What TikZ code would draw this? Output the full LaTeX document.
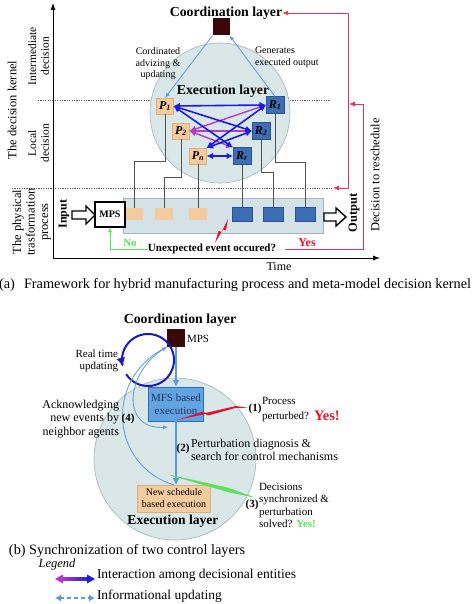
\documentclass[tikz,border=0pt]{standalone}
\usepackage{fontspec}
\setmainfont{Liberation Serif}
\usetikzlibrary{arrows.meta,calc}
\definecolor{peach}{HTML}{F3CB9F}
\definecolor{peachd}{HTML}{DDAE78}
\definecolor{rbox}{HTML}{3D6DB3}
\definecolor{rboxd}{HTML}{2A5190}
\definecolor{cfill}{HTML}{D9E7E9}
\definecolor{cdraw}{HTML}{9FB2B6}
\definecolor{barfill}{HTML}{D4E1E6}
\definecolor{bardraw}{HTML}{A0B4BC}
\definecolor{maroon}{HTML}{3A0808}
\definecolor{iblue}{HTML}{1C1CE0}
\definecolor{imag}{HTML}{B43CC4}
\definecolor{lblue}{HTML}{5B9BD5}
\definecolor{rline}{HTML}{D8385C}
\definecolor{yred}{HTML}{E0142C}
\definecolor{gline}{HTML}{5EE05E}
\definecolor{mfsfill}{HTML}{62A4E2}
\definecolor{mfsdraw}{HTML}{2E6DB0}
\definecolor{loopb}{HTML}{1A1AB4}
\definecolor{navy}{HTML}{1E3560}
\definecolor{grayc}{HTML}{505050}
\newcommand{\myfs}[2]{\fontsize{#1}{#2}\selectfont}
\newcommand{\plab}[2]{\textbf{\textit{#1}}\textsubscript{\textbf{\textit{#2}}}}
\tikzset{
  every node/.style={inner sep=0pt, outer sep=0pt},
  ttl/.style={font=\myfs{13.8}{16}\bfseries},
  sm/.style={font=\myfs{10}{11.5}},
  side/.style={rotate=90, font=\myfs{12.5}{13.5}, align=center},
  sideb/.style={rotate=90, font=\myfs{11.5}{12.8}, align=center},
  pbox/.style={draw=peachd, fill=peach, line width=0.4pt, minimum width=17pt, minimum height=16pt, font=\myfs{12}{12}},
  rboxn/.style={draw=rboxd, fill=rbox, line width=0.4pt, minimum width=18pt, minimum height=17pt, font=\myfs{12}{12}},
  ppb/.style={fill=peach, minimum width=18pt, minimum height=12pt},
  bpb/.style={draw=rboxd, fill=rbox, line width=0.4pt, minimum width=20pt, minimum height=14pt},
  sqr/.style={fill=maroon, minimum size=17pt},
  execc/.style={circle, draw=cdraw, fill=cfill, line width=0.6pt},
  conn/.style={draw=grayc, line width=0.7pt},
  dotl/.style={draw=gray!70!black, line width=0.6pt, dash pattern=on 1.2pt off 1.2pt},
  redl/.style={draw=rline, line width=0.9pt},
  grnl/.style={draw=gline, line width=0.9pt},
  info/.style={draw=lblue, line width=0.8pt, -{Latex[length=5pt,width=4pt]}},
  thinfo/.style={draw=lblue, line width=1.8pt, -{Latex[length=7pt,width=7pt]}},
  binter/.style={draw=iblue, line width=1.6pt, {Latex[length=6.5pt,width=6.5pt]}-{Latex[length=6.5pt,width=6.5pt]}},
  minter/.style={draw=imag, line width=1.4pt, {Latex[length=6.5pt,width=6.5pt]}-{Latex[length=6.5pt,width=6.5pt]}},
  axisl/.style={draw=black, line width=0.8pt, -{Latex[length=7pt,width=5pt]}},
  captxt/.style={anchor=west, font=\myfs{14.3}{16}},
}
\begin{document}
\begin{tikzpicture}[x=1pt,y=-1pt]
\useasboundingbox (0,0) rectangle (474,604);
% ================= (a) =================
\coordinate (org) at (53,258);
\coordinate (ytop) at (53,3);
\coordinate (xend) at (380,258);
\coordinate (d1a) at (38,100);
\coordinate (d1b) at (330,100);
\coordinate (d2a) at (12,188);
\coordinate (rt) at (348,13);
\coordinate (rb) at (348,188);
\coordinate (rbend) at (333,188);
\coordinate (ry3) at (363,104);
\coordinate (ry4) at (349,104);
\draw[dotl] (d1a) -- (d1b);
\draw[dotl] (d2a) -- (rbend);
\draw[axisl] (org) -- (ytop);
\draw[axisl] (org) -- (xend);
% side labels
\node[side] (kern) at (12,110) {The decision kernel};
\node[sideb] (inter) at (38.5,56) {Intermediate\\decision};
\node[sideb] (local) at (38.5,143) {Local\\decision};
\node[side] (phys) at (31.5,222) {The physical\\trasformation\\process};
\node[side] (resch) at (375,175) {Decision to reschedule};
\node[font=\myfs{12}{12}] (time) at (279,267) {Time};
% execution circle
\node[execc, minimum size=140pt] (exec) at (220,113) {};
\node[ttl] (execl) at (223,91) {Execution layer};
\node[ttl] (coord) at (226,13) {Coordination layer};
\node[sqr] (csq) at (221,27) {};
% decision nodes
\node[pbox] (P1) at (165,106) {\plab{P}{1}};
\node[pbox] (P2) at (181,131) {\plab{P}{2}};
\node[pbox] (Pn) at (198,156) {\plab{P}{n}};
\node[rboxn] (R1) at (275,105) {\plab{R}{1}};
\node[rboxn] (R2) at (261,131) {\plab{R}{2}};
\node[rboxn] (Rr) at (242,156) {\plab{R}{r}};
% interactions
\draw[minter] (P2.east) -- (R1.west);
\draw[minter] (P2.east) -- (R2.west);
\draw[minter] (P2.east) -- (Rr.north west);
\draw[binter] (P1.east) -- (R1.west);
\draw[binter] (P1.east) -- (R2.west);
\draw[binter] (P1.east) -- (Rr.north west);
\draw[binter] (Pn.north east) -- (R1.west);
\draw[binter] (Pn.north east) -- (R2.west);
\draw[binter] (Pn.east) -- (Rr.west);
% info arrows
\draw[info] (csq.south west) -- (P1.north);
\draw[info] (R1.north) -- (csq.south east);
\node[sm, align=center] (advz) at (158,64) {Cordinated\\advizing \&\\updating};
\node[sm, align=left, anchor=west] (gen) at (255,57.5) {Generates\\executed output};
% process bar
\node[draw=bardraw, fill=barfill, line width=0.6pt, minimum width=200pt, minimum height=35pt] (bar) at (223,215.5) {};
\node[ppb] (pb1) at (134,214) {};
\node[ppb] (pb2) at (164,214) {};
\node[ppb] (pb3) at (198,214) {};
\node[bpb] (bb1) at (242,214) {};
\node[bpb] (bb2) at (273,214) {};
\node[bpb] (bb3) at (305,214) {};
\draw[conn] (P1.south) -- ++(0,47) -| (pb1.north);
\draw[conn] (P2.south) -- ++(0,38) -| (pb2.north);
\draw[conn] (Pn.south) -- (Pn.south |- pb3.north);
\draw[conn] (Rr.south) -- (Rr.south |- bb1.north);
\draw[conn] (R2.south) -- ++(0,33) -| (bb2.north);
\draw[conn] (R1.south) -- ++(0,49) -| (bb3.north);
% MPS, input, output
\node[draw, line width=1.2pt, fill=white, minimum width=30pt, minimum height=25pt, font=\myfs{10}{10}\bfseries] (mps) at (110,214.5) {MPS};
\draw[line width=1.4pt, line join=miter] (72,211) -- (86,211) -- (86,206) -- (95,215) -- (86,224) -- (86,219) -- (72,219) -- cycle;
\draw[line width=1.4pt, line join=miter] (324,213) -- (336,213) -- (336,208) -- (346,217) -- (336,226) -- (336,221) -- (324,221) -- cycle;
\node[rotate=90, font=\myfs{12}{12}\bfseries] (inp) at (64,214) {Input};
\node[rotate=90, font=\myfs{12.5}{12.5}\bfseries] (outp) at (354,213) {Output};
% event
\fill[yred] (215,243) -- (218.5,231) -- (221.5,232) -- (228,219) -- (226,230.5) -- (223,229.5) -- cycle;
\node[font=\myfs{11}{11}\bfseries] (unexp) at (212,249) {Unexpected event occured?};
\node[font=\myfs{11}{11}\bfseries, text=gline] (no) at (130,243) {No};
\node[font=\myfs{12}{12}\bfseries, text=yred] (yes) at (307,243) {Yes};
\draw[grnl, -{Latex[length=5pt,width=4pt]}] (unexp.west) -| (mps.south);
\draw[redl, -{Latex[length=6pt,width=5pt]}, shorten <=9pt] (unexp.east) -| (ry3) -- (ry4);
\draw[redl, {Latex[length=6pt,width=5pt]}-{Latex[length=6pt,width=5pt]}] (coord.east) -- (rt) -- (rb) -- (rbend);
% caption a
\node[captxt] (capa) at (-1,285) {(a)};
\node[captxt] (capa2) at (24,285) {Framework for hybrid manufacturing process and meta-model decision kernel};
% ================= (b) =================
\node[ttl] (coordb) at (180,320) {Coordination layer};
\node[execc, minimum size=162pt] (execb) at (175,459) {};
\node[sqr, minimum size=18pt] (csqb) at (176,338) {};
\node[anchor=west, font=\myfs{11}{11}] (mpsb) at (187,339) {MPS};
\coordinate (loopc) at (148,360);
\draw[draw=loopb, line width=2pt, -{Latex[length=9pt,width=9pt]}] plot[domain=0:342, samples=72, smooth] ({148+26*cos(507-\x)}, {360+26*sin(507-\x)});
\node[anchor=east, align=right, font=\myfs{11}{12.5}] (rtu) at (118,361) {Real time\\updating};
\node[draw=mfsdraw, fill=mfsfill, line width=0.8pt, minimum width=55pt, minimum height=34pt, align=center, font=\myfs{11}{13}, text=navy] (mfs) at (176,404) {MFS based\\execution};
\node[draw=peachd, fill=peach, line width=0.6pt, minimum width=73pt, minimum height=27pt, align=center, font=\myfs{10}{12}] (nsb) at (174,498.5) {New schedule\\based execution};
\draw[thinfo] (csqb.south) -- (mfs.north);
\draw[thinfo] (mfs.south) -- (mfs.south |- nsb.north);
\draw[info] (nsb.north) .. controls (110,465) and (105,380) .. (csqb.south west);
\draw[info] (csqb.south west) .. controls (125,370) and (120,430) .. (168,427);
% perturbation bolt
\fill[yred] (177,420) -- (203,411.5) -- (205.5,413) -- (236,406) -- (249,408) -- (236,407.8) -- (208,415.5) -- (205.5,414) -- cycle;
% green wedge
\filldraw[fill=gline, draw=gline, line width=0.5pt] (170,475) -- (228,488) -- (253,497) -- (229,492) -- cycle;
\node[font=\myfs{11}{11}\bfseries] (n1) at (255,409) {(1)};
\node[anchor=west, align=left, font=\myfs{11}{14.5}] (proc) at (262,409.5) {Process\\perturbed?};
\node[anchor=west, font=\myfs{14.5}{14.5}\bfseries, text=yred] (yesb) at (314,416) {Yes!};
\node[font=\myfs{11}{11}\bfseries] (n2) at (183,449) {(2)};
\node[anchor=west, align=left, font=\myfs{12}{13}] (pdiag) at (191,449.5) {Perturbation diagnosis \&\\search for control mechanisms};
\node[font=\myfs{11}{11}\bfseries] (n3) at (252,505) {(3)};
\node[anchor=west, align=left, font=\myfs{11}{12.4}] (dsync) at (259,505.5) {Decisions\\synchronized \&\\perturbation\\solved? {\bfseries\color{gline}Yes!}};
\node[font=\myfs{11}{11}\bfseries] (n4) at (128,419) {(4)};
\node[anchor=east, align=right, font=\myfs{12}{13.5}] (ack) at (119,419) {Acknowledging\\new events by\\neighbor agents};
\node[ttl, font=\myfs{13.6}{16}\bfseries] (execlb) at (173,521) {Execution layer};
% caption b + legend
\node[captxt] (capb) at (9,551) {(b) Synchronization of two control layers};
\node[font=\myfs{12.5}{12.5}\itshape] (leg) at (57,564) {Legend};
\shade[left color=imag, right color=iblue] (61,577.6) rectangle (89,580.4);
\fill[imag] (55,579) -- (63,574.5) -- (63,583.5) -- cycle;
\fill[iblue] (95,579) -- (87,574.5) -- (87,583.5) -- cycle;
\node[anchor=west, font=\myfs{13.5}{13.5}] (leg1) at (97,575) {Interaction among decisional entities};
\coordinate (l2a) at (55,598);
\coordinate (l2b) at (95,598);
\draw[draw=lblue, line width=1.3pt, dash pattern=on 4pt off 3pt, {Latex[length=6pt,width=7pt]}-{Latex[length=6pt,width=7pt]}] (l2a) -- (l2b);
\node[anchor=west, font=\myfs{13.5}{13.5}] (leg2) at (97,596) {Informational updating};
\end{tikzpicture}
\end{document}
